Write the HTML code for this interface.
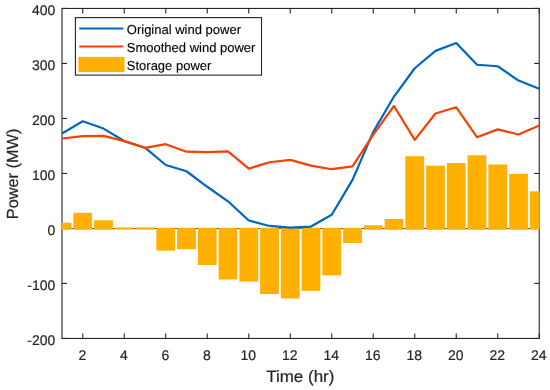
<!DOCTYPE html>
<html><head><meta charset="utf-8"><style>
html,body{margin:0;padding:0;background:#fff;}
svg{display:block;}
text{text-rendering:geometricPrecision;font-family:"Liberation Sans",Arial,sans-serif;fill:#262626;stroke:#262626;stroke-width:0.2px;}
.t{font-size:14px;}
.l{font-size:15.7px;}
.g{font-size:13px;fill:#000;stroke:#000;stroke-width:0.12px;}
</style></head><body>
<svg width="550" height="390" viewBox="0 0 550 390">
<rect x="62.0" y="8.45" width="477.25" height="330.00" fill="none" stroke="#262626" stroke-width="1.1"/>
<line x1="82.75" y1="338.45" x2="82.75" y2="333.45" stroke="#262626" stroke-width="1.1"/>
<line x1="82.75" y1="8.45" x2="82.75" y2="13.45" stroke="#262626" stroke-width="1.1"/>
<text x="82.35" y="359.9" text-anchor="middle" class="t">2</text>
<line x1="124.25" y1="338.45" x2="124.25" y2="333.45" stroke="#262626" stroke-width="1.1"/>
<line x1="124.25" y1="8.45" x2="124.25" y2="13.45" stroke="#262626" stroke-width="1.1"/>
<text x="123.85" y="359.9" text-anchor="middle" class="t">4</text>
<line x1="165.75" y1="338.45" x2="165.75" y2="333.45" stroke="#262626" stroke-width="1.1"/>
<line x1="165.75" y1="8.45" x2="165.75" y2="13.45" stroke="#262626" stroke-width="1.1"/>
<text x="165.35" y="359.9" text-anchor="middle" class="t">6</text>
<line x1="207.25" y1="338.45" x2="207.25" y2="333.45" stroke="#262626" stroke-width="1.1"/>
<line x1="207.25" y1="8.45" x2="207.25" y2="13.45" stroke="#262626" stroke-width="1.1"/>
<text x="206.85" y="359.9" text-anchor="middle" class="t">8</text>
<line x1="248.75" y1="338.45" x2="248.75" y2="333.45" stroke="#262626" stroke-width="1.1"/>
<line x1="248.75" y1="8.45" x2="248.75" y2="13.45" stroke="#262626" stroke-width="1.1"/>
<text x="248.35" y="359.9" text-anchor="middle" class="t">10</text>
<line x1="290.25" y1="338.45" x2="290.25" y2="333.45" stroke="#262626" stroke-width="1.1"/>
<line x1="290.25" y1="8.45" x2="290.25" y2="13.45" stroke="#262626" stroke-width="1.1"/>
<text x="289.85" y="359.9" text-anchor="middle" class="t">12</text>
<line x1="331.75" y1="338.45" x2="331.75" y2="333.45" stroke="#262626" stroke-width="1.1"/>
<line x1="331.75" y1="8.45" x2="331.75" y2="13.45" stroke="#262626" stroke-width="1.1"/>
<text x="331.35" y="359.9" text-anchor="middle" class="t">14</text>
<line x1="373.25" y1="338.45" x2="373.25" y2="333.45" stroke="#262626" stroke-width="1.1"/>
<line x1="373.25" y1="8.45" x2="373.25" y2="13.45" stroke="#262626" stroke-width="1.1"/>
<text x="372.85" y="359.9" text-anchor="middle" class="t">16</text>
<line x1="414.75" y1="338.45" x2="414.75" y2="333.45" stroke="#262626" stroke-width="1.1"/>
<line x1="414.75" y1="8.45" x2="414.75" y2="13.45" stroke="#262626" stroke-width="1.1"/>
<text x="414.35" y="359.9" text-anchor="middle" class="t">18</text>
<line x1="456.25" y1="338.45" x2="456.25" y2="333.45" stroke="#262626" stroke-width="1.1"/>
<line x1="456.25" y1="8.45" x2="456.25" y2="13.45" stroke="#262626" stroke-width="1.1"/>
<text x="455.85" y="359.9" text-anchor="middle" class="t">20</text>
<line x1="497.75" y1="338.45" x2="497.75" y2="333.45" stroke="#262626" stroke-width="1.1"/>
<line x1="497.75" y1="8.45" x2="497.75" y2="13.45" stroke="#262626" stroke-width="1.1"/>
<text x="497.35" y="359.9" text-anchor="middle" class="t">22</text>
<line x1="539.25" y1="338.45" x2="539.25" y2="333.45" stroke="#262626" stroke-width="1.1"/>
<line x1="539.25" y1="8.45" x2="539.25" y2="13.45" stroke="#262626" stroke-width="1.1"/>
<text x="538.85" y="359.9" text-anchor="middle" class="t">24</text>
<line x1="62.0" y1="338.45" x2="67.0" y2="338.45" stroke="#262626" stroke-width="1.1"/>
<line x1="539.25" y1="338.45" x2="534.25" y2="338.45" stroke="#262626" stroke-width="1.1"/>
<text x="55.3" y="344.55" text-anchor="end" class="t">-200</text>
<line x1="62.0" y1="283.45" x2="67.0" y2="283.45" stroke="#262626" stroke-width="1.1"/>
<line x1="539.25" y1="283.45" x2="534.25" y2="283.45" stroke="#262626" stroke-width="1.1"/>
<text x="55.3" y="289.55" text-anchor="end" class="t">-100</text>
<line x1="62.0" y1="228.45" x2="67.0" y2="228.45" stroke="#262626" stroke-width="1.1"/>
<line x1="539.25" y1="228.45" x2="534.25" y2="228.45" stroke="#262626" stroke-width="1.1"/>
<text x="55.3" y="234.55" text-anchor="end" class="t">0</text>
<line x1="62.0" y1="173.45" x2="67.0" y2="173.45" stroke="#262626" stroke-width="1.1"/>
<line x1="539.25" y1="173.45" x2="534.25" y2="173.45" stroke="#262626" stroke-width="1.1"/>
<text x="55.3" y="179.55" text-anchor="end" class="t">100</text>
<line x1="62.0" y1="118.45" x2="67.0" y2="118.45" stroke="#262626" stroke-width="1.1"/>
<line x1="539.25" y1="118.45" x2="534.25" y2="118.45" stroke="#262626" stroke-width="1.1"/>
<text x="55.3" y="124.55" text-anchor="end" class="t">200</text>
<line x1="62.0" y1="63.45" x2="67.0" y2="63.45" stroke="#262626" stroke-width="1.1"/>
<line x1="539.25" y1="63.45" x2="534.25" y2="63.45" stroke="#262626" stroke-width="1.1"/>
<text x="55.3" y="69.55" text-anchor="end" class="t">300</text>
<line x1="62.0" y1="8.45" x2="67.0" y2="8.45" stroke="#262626" stroke-width="1.1"/>
<line x1="539.25" y1="8.45" x2="534.25" y2="8.45" stroke="#262626" stroke-width="1.1"/>
<text x="55.3" y="14.55" text-anchor="end" class="t">400</text>
<clipPath id="c"><rect x="61.5" y="8.2" width="478.20" height="330.50"/></clipPath>
<g clip-path="url(#c)"><line x1="62.0" y1="228.45" x2="539.25" y2="228.45" stroke="#4a4f60" stroke-width="1.1"/><rect x="52.60" y="222.73" width="18.8" height="7.07" fill="#FFB000"/><rect x="73.35" y="212.83" width="18.8" height="16.97" fill="#FFB000"/><rect x="94.10" y="220.31" width="18.8" height="9.49" fill="#FFB000"/><rect x="114.85" y="227.45" width="18.8" height="2.20" fill="#FFB000"/><rect x="135.60" y="227.45" width="18.8" height="2.20" fill="#FFB000"/><rect x="156.35" y="227.80" width="18.8" height="22.83" fill="#FFB000"/><rect x="177.10" y="227.80" width="18.8" height="21.41" fill="#FFB000"/><rect x="197.85" y="227.80" width="18.8" height="37.19" fill="#FFB000"/><rect x="218.60" y="227.80" width="18.8" height="51.71" fill="#FFB000"/><rect x="239.35" y="227.80" width="18.8" height="53.80" fill="#FFB000"/><rect x="260.10" y="227.80" width="18.8" height="66.18" fill="#FFB000"/><rect x="280.85" y="227.80" width="18.8" height="70.69" fill="#FFB000"/><rect x="301.60" y="227.80" width="18.8" height="62.99" fill="#FFB000"/><rect x="322.35" y="227.80" width="18.8" height="47.59" fill="#FFB000"/><rect x="343.10" y="227.80" width="18.8" height="15.19" fill="#FFB000"/><rect x="363.85" y="225.31" width="18.8" height="4.48" fill="#FFB000"/><rect x="384.60" y="218.99" width="18.8" height="10.81" fill="#FFB000"/><rect x="405.35" y="156.23" width="18.8" height="73.56" fill="#FFB000"/><rect x="426.10" y="165.69" width="18.8" height="64.11" fill="#FFB000"/><rect x="446.85" y="163.06" width="18.8" height="66.74" fill="#FFB000"/><rect x="467.60" y="155.30" width="18.8" height="74.50" fill="#FFB000"/><rect x="488.35" y="164.43" width="18.8" height="65.37" fill="#FFB000"/><rect x="509.10" y="173.94" width="18.8" height="55.86" fill="#FFB000"/><rect x="529.85" y="191.32" width="18.8" height="38.47" fill="#FFB000"/><polyline points="62.00,133.57 82.75,121.26 103.50,128.57 124.25,141.00 145.00,147.71 165.75,165.03 186.50,171.25 207.25,186.76 228.00,201.28 248.75,220.47 269.50,225.97 290.25,227.62 311.00,226.58 331.75,214.81 352.50,179.83 373.25,131.92 394.00,96.56 414.75,68.24 435.50,50.85 456.25,43.05 477.00,64.77 497.75,66.25 518.50,80.56 539.25,88.75" fill="none" stroke="#0066C4" stroke-width="2.2" stroke-linejoin="round" stroke-linecap="butt"/><polyline points="62.00,138.52 82.75,136.21 103.50,135.83 124.25,141.11 145.00,147.88 165.75,144.19 186.50,151.72 207.25,152.22 228.00,151.39 248.75,168.61 269.50,162.23 290.25,159.92 311.00,165.58 331.75,169.21 352.50,166.36 373.25,134.56 394.00,106.02 414.75,139.90 435.50,113.50 456.25,107.28 477.00,137.21 497.75,129.39 518.50,134.46 539.25,125.49" fill="none" stroke="#F84000" stroke-width="2.2" stroke-linejoin="round" stroke-linecap="butt"/></g>
<text x="300.3" y="381.7" text-anchor="middle" class="l" style="font-size:16.5px" textLength="68.3" lengthAdjust="spacingAndGlyphs">Time (hr)</text>
<text transform="translate(17.6,173.9) rotate(-90)" x="0" y="0" text-anchor="middle" class="l" style="font-size:16.1px" textLength="90.5" lengthAdjust="spacingAndGlyphs">Power (MW)</text>
<rect x="75.4" y="17.6" width="186.10" height="57.50" fill="#fff" stroke="#262626" stroke-width="1.1"/>
<line x1="79.3" y1="28.5" x2="123.3" y2="28.5" stroke="#0066C4" stroke-width="2.0"/>
<line x1="79.3" y1="46.6" x2="123.3" y2="46.6" stroke="#F84000" stroke-width="2.0"/>
<rect x="78.4" y="56.9" width="46.1" height="15.1" fill="#FFB000"/>
<text x="126.8" y="33.6" class="g">Original wind power</text>
<text x="126.8" y="51.9" class="g">Smoothed wind power</text>
<text x="126.8" y="70.2" class="g">Storage power</text>
</svg>
</body></html>
